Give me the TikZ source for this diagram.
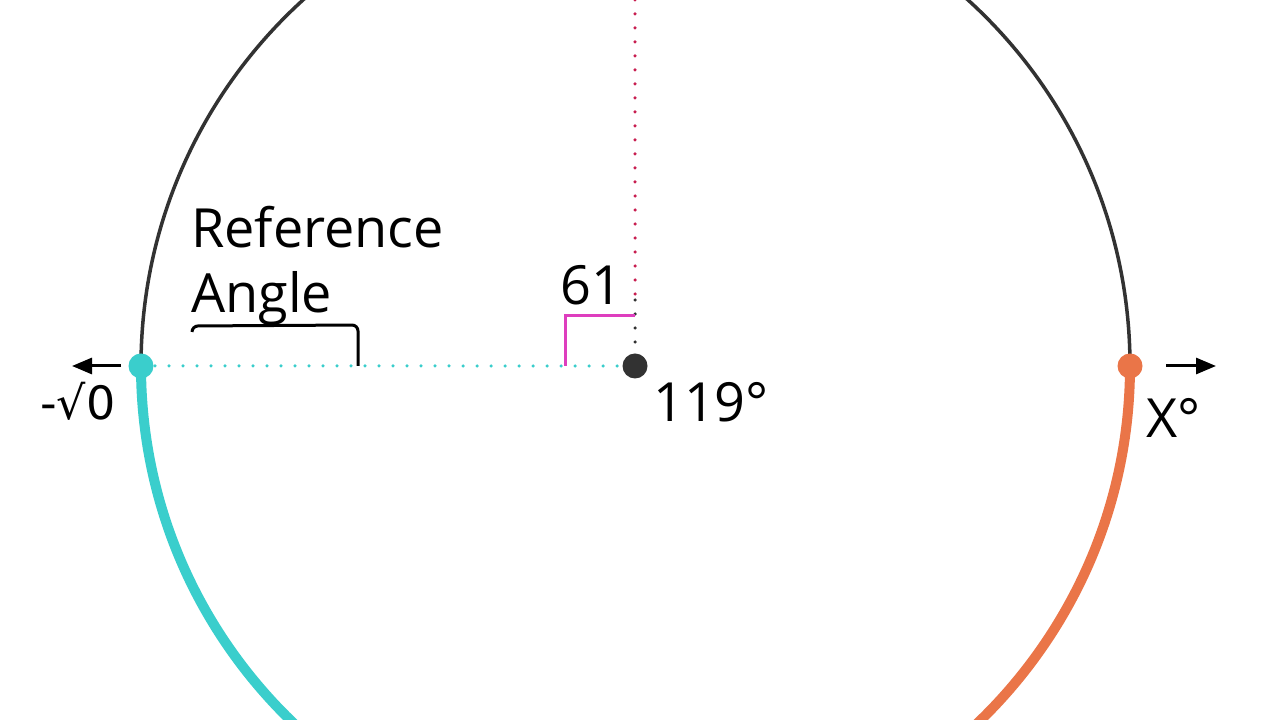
\documentclass[tikz,border=0pt]{standalone}
\usepackage{fontspec}
\setmainfont{Open Sans}
\newfontfamily\symfont{DejaVu Sans}
\usetikzlibrary{arrows.meta}
\definecolor{cyanarc}{RGB}{58,206,204}
\definecolor{orangearc}{RGB}{234,117,72}
\definecolor{crimsondot}{RGB}{200,30,80}
\definecolor{magentamark}{RGB}{222,62,190}
\definecolor{darkdot}{RGB}{50,50,50}
\tikzset{
  lbl/.style={anchor=base west, inner sep=0pt, font=\fontsize{54}{60}\selectfont},
  dotline/.style={line width=3.5pt, line cap=round, dash pattern=on 0pt off 14pt},
  axisarrow/.style={line width=3pt, -{Triangle[length=20pt,width=16pt]}},
}
\begin{document}
\begin{tikzpicture}[x=1pt,y=1pt]
\path[fill=white] (0,0) rectangle (1280,720);
\useasboundingbox (0,0) rectangle (1280,720);
\begin{scope}
\clip (0,0) rectangle (1280,720);
% coordinates
\coordinate (C) at (635,354);
\coordinate (L) at (141,354);
\coordinate (R) at (1130,354);
\coordinate (T) at (635,720);
\coordinate (Tm) at (635,420);
% upper arc
\draw[line width=3.5pt, darkdot] (R) arc[start angle=0, end angle=180, radius=494.5];
% lower arcs
\draw[line width=10pt, cyanarc] (L) arc[start angle=180, end angle=270, radius=494.5];
\draw[line width=10pt, orangearc] (R) arc[start angle=0, end angle=-90, radius=494.5];
% dotted lines
\draw[dotline, cyanarc] (L) -- (C);
\draw[dotline, crimsondot] (T) -- (Tm);
\draw[dotline, darkdot] (Tm) -- (C);
% right angle marker
\coordinate (M1) at (565,354);
\coordinate (M2) at (565,404);
\coordinate (M3) at (635,404);
\draw[line width=3pt, magentamark] (M1) -- (M2) -- (M3);
% dots
\node[circle, fill=cyanarc, minimum size=25pt, inner sep=0pt] (Ld) at (L) {};
\node[circle, fill=orangearc, minimum size=25pt, inner sep=0pt] (Rd) at (R) {};
\node[circle, fill=darkdot, minimum size=25pt, inner sep=0pt] (Cd) at (C) {};
% arrows
\coordinate (LA1) at (121,354);
\coordinate (LA2) at (72,354);
\draw[axisarrow] (LA1) -- (LA2);
\coordinate (RA1) at (1166,354);
\coordinate (RA2) at (1216,354);
\draw[axisarrow] (RA1) -- (RA2);
% bracket
\coordinate (B0) at (192,388);
\coordinate (B1) at (192,394);
\coordinate (B2) at (358,395);
\coordinate (B3) at (358,354);
\draw[line width=3pt, rounded corners=6pt] (B0) -- (B1) -- (B2) -- (B3);
% labels
\node[lbl] (ref) at (191,472) {Reference};
\node[lbl] (ang) at (191,407) {Angle};
\node[lbl] (n61) at (560,415) {61};
\node[lbl] (n119) at (653,298) {119°};
\node[lbl] (xdeg) at (1146,282) {X°};
\node[anchor=base west, inner sep=0pt, font=\symfont\fontsize{46}{50}\selectfont] (neg) at (40,300) {-√0};
\end{scope}
\end{tikzpicture}
\end{document}
